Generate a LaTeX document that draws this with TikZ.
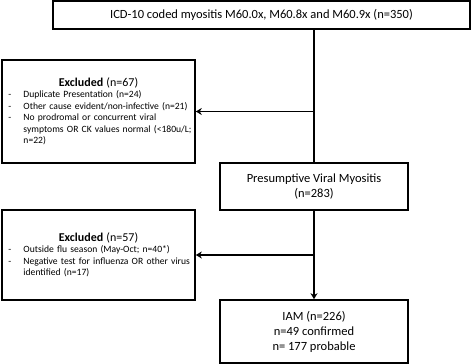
\documentclass[tikz,border=0pt]{standalone}
\usepackage{fontspec}
\setmainfont{Carlito}
\usetikzlibrary{arrows.meta,positioning}
\hyphenpenalty=10000
\exhyphenpenalty=10000
\newcommand{\exitem}[1]{\par\hangindent=19pt\hangafter=1\noindent\makebox[19pt][l]{\hspace{4pt}-}#1\par}
\newcommand{\exhead}[1]{{\centering\fontsize{12}{15}\selectfont #1\par}}

\begin{document}
\begin{tikzpicture}[
  x=1pt, y=-1pt,
  every node/.style={font=\fontsize{12.5}{15}\selectfont},
  bx/.style={draw,line width=1.6pt,inner sep=0pt,align=center},
  exbx/.style={bx,align=left,text width=188pt,inner xsep=2.5pt,minimum height=#1,
    font=\fontsize{9.6}{11.5}\selectfont},
  link/.style={line width=1.5pt},
  arrow/.style={link,-{Stealth[length=6pt,width=7pt,inset=2pt]}}
]
\useasboundingbox (0,0) rectangle (474,364);
\node[bx,minimum width=417pt,minimum height=28pt] (coded) at (261.5,15) {ICD-10 coded myositis M60.0x, M60.8x and M60.9x (n=350)};
\node[bx,minimum width=188pt,minimum height=47pt] (viral) at (314,186.5) {Presumptive Viral Myositis\\(n=283)};
\node[bx,minimum width=188pt,minimum height=63pt] (iam) at (314,331.5) {IAM (n=226)\\n=49 confirmed\\n= 177 probable};
\node[exbx=103pt] (excl1) at (98.5,111.5) {\exhead{\textbf{Excluded} (n=67)}
  \exitem{Duplicate Presentation (n=24)}
  \exitem{Other cause evident/non-infective (n=21)}
  \exitem{No prodromal or concurrent viral\newline symptoms OR CK values normal (<180u/L;\newline n=22)}};
\node[exbx=90pt] (excl2) at (98.5,255) {\exhead{\textbf{Excluded} (n=57)}
  \exitem{Outside flu season (May-Oct; n=40*)}
  \exitem{Negative test for influenza OR other virus identified (n=17)}};
% main flow
\draw[link] (coded.south -| viral.north) -- (viral.north);
\draw[arrow] (viral.south) -- (iam.north);
% exclusions
\draw[arrow] (excl1.east -| viral.north) -- (excl1.east);
\draw[arrow] (excl2.east -| viral.south) -- (excl2.east);
\end{tikzpicture}
\end{document}
